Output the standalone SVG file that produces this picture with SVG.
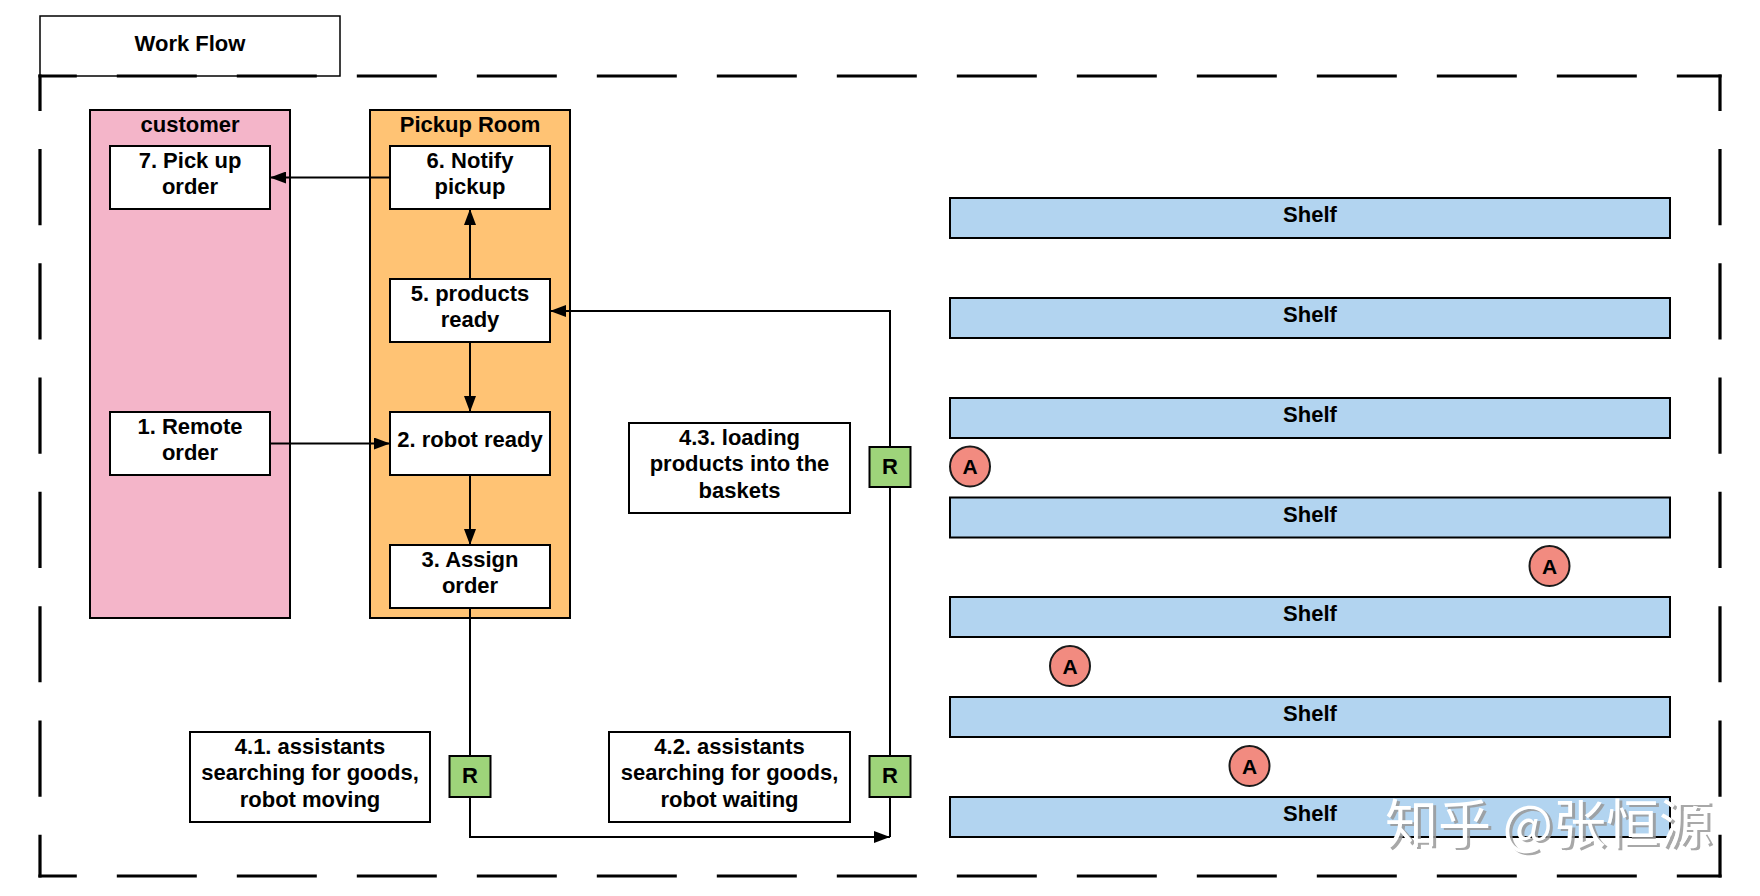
<svg xmlns="http://www.w3.org/2000/svg" width="1760" height="896" viewBox="0 0 1760 896">
<style>
.t{font-family:"Liberation Sans",Arial,sans-serif;font-weight:bold;font-size:22px;fill:#000;text-anchor:middle}
.box{fill:#fff;stroke:#000;stroke-width:2}
.lane{stroke:#000;stroke-width:2}
.shelf{fill:#b2d4f0;stroke:#000;stroke-width:2}
.r{fill:#9ed47a;stroke:#000;stroke-width:2}
.a{fill:#f28b80;stroke:#1a1a1a;stroke-width:2}
.c{fill:none;stroke:#000;stroke-width:2}
.bd{stroke:#000;stroke-width:3.2;fill:none}
.wm{font-family:"Noto Sans CJK SC",sans-serif;font-size:53px}
</style>
<defs>
<marker id="ah" markerUnits="userSpaceOnUse" markerWidth="16" markerHeight="12" refX="16" refY="6" orient="auto"><path d="M0,0 L16,6 L0,12 z" fill="#000"/></marker>
</defs>
<rect width="1760" height="896" fill="#fff"/>
<g id="title"><rect x="40" y="16" width="300" height="60" fill="#fff" stroke="#000" stroke-width="1.5"/><text class="t" x="190" y="51">Work Flow</text></g>
<g id="border">
<line class="bd" x1="38.4" y1="76" x2="1721.6" y2="76" stroke-dasharray="80 40" stroke-dashoffset="41.6"/>
<line class="bd" x1="38.4" y1="876" x2="1721.6" y2="876" stroke-dasharray="80 40" stroke-dashoffset="41.6"/>
<line class="bd" x1="40" y1="74.4" x2="40" y2="877.6" stroke-dasharray="76.19 38.1" stroke-dashoffset="39.7"/>
<line class="bd" x1="1720" y1="74.4" x2="1720" y2="877.6" stroke-dasharray="76.19 38.1" stroke-dashoffset="39.7"/>
</g>
<g id="lane-customer"><rect class="lane" x="90" y="110" width="200" height="508" fill="#f4b5c9"/><text class="t" x="190" y="132">customer</text></g>
<g id="lane-pickup"><rect class="lane" x="370" y="110" width="200" height="508" fill="#ffc374"/><text class="t" x="470" y="132">Pickup Room</text></g>
<g id="connectors">
<path class="c" d="M390,177.5 H270" marker-end="url(#ah)"/>
<path class="c" d="M470,279 V209" marker-end="url(#ah)"/>
<path class="c" d="M470,342 V412" marker-end="url(#ah)"/>
<path class="c" d="M470,475 V545" marker-end="url(#ah)"/>
<path class="c" d="M270,443.5 H390" marker-end="url(#ah)"/>
<path class="c" d="M470,608 V837 H890" marker-end="url(#ah)"/>
<path class="c" d="M890,837 V311 H550" marker-end="url(#ah)"/>
</g>
<g id="n7"><rect class="box" x="110" y="146" width="160" height="63"/><text class="t" x="190" y="167.5">7. Pick up</text><text class="t" x="190" y="194">order</text></g>
<g id="n1"><rect class="box" x="110" y="412" width="160" height="63"/><text class="t" x="190" y="433.5">1. Remote</text><text class="t" x="190" y="460">order</text></g>
<g id="n6"><rect class="box" x="390" y="146" width="160" height="63"/><text class="t" x="470" y="167.5">6. Notify</text><text class="t" x="470" y="194">pickup</text></g>
<g id="n5"><rect class="box" x="390" y="279" width="160" height="63"/><text class="t" x="470" y="300.5">5. products</text><text class="t" x="470" y="327">ready</text></g>
<g id="n2"><rect class="box" x="390" y="412" width="160" height="63"/><text class="t" x="470" y="447">2. robot ready</text></g>
<g id="n3"><rect class="box" x="390" y="545" width="160" height="63"/><text class="t" x="470" y="566.5">3. Assign</text><text class="t" x="470" y="593">order</text></g>
<g id="n43"><rect class="box" x="629" y="423" width="221" height="90"/><text class="t" x="739.5" y="444.5">4.3. loading</text><text class="t" x="739.5" y="471">products into the</text><text class="t" x="739.5" y="497.5">baskets</text></g>
<g id="n41"><rect class="box" x="190" y="732" width="240" height="90"/><text class="t" x="310" y="753.5">4.1. assistants</text><text class="t" x="310" y="780">searching for goods,</text><text class="t" x="310" y="806.5">robot moving</text></g>
<g id="n42"><rect class="box" x="609" y="732" width="241" height="90"/><text class="t" x="729.5" y="753.5">4.2. assistants</text><text class="t" x="729.5" y="780">searching for goods,</text><text class="t" x="729.5" y="806.5">robot waiting</text></g>
<g id="r1"><rect class="r" x="449.5" y="756" width="41" height="41"/><text class="t" x="470" y="783">R</text></g>
<g id="r2"><rect class="r" x="869.5" y="756" width="41" height="41"/><text class="t" x="890" y="783">R</text></g>
<g id="r3"><rect class="r" x="869.5" y="447" width="41" height="40"/><text class="t" x="890" y="474">R</text></g>
<g id="shelves">
<g id="s1"><rect class="shelf" x="950" y="198" width="720" height="40"/><text class="t" x="1310" y="222">Shelf</text></g>
<g id="s2"><rect class="shelf" x="950" y="298" width="720" height="40"/><text class="t" x="1310" y="322">Shelf</text></g>
<g id="s3"><rect class="shelf" x="950" y="398" width="720" height="40"/><text class="t" x="1310" y="422">Shelf</text></g>
<g id="s4"><rect class="shelf" x="950" y="497.5" width="720" height="40"/><text class="t" x="1310" y="521.5">Shelf</text></g>
<g id="s5"><rect class="shelf" x="950" y="597" width="720" height="40"/><text class="t" x="1310" y="621">Shelf</text></g>
<g id="s6"><rect class="shelf" x="950" y="697" width="720" height="40"/><text class="t" x="1310" y="721">Shelf</text></g>
<g id="s7"><rect class="shelf" x="950" y="797" width="720" height="40"/><text class="t" x="1310" y="821">Shelf</text></g>
</g>
<g id="a1"><circle class="a" cx="970" cy="466.5" r="20"/><text class="t" x="970" y="474" style="font-size:21px">A</text></g>
<g id="a2"><circle class="a" cx="1549.5" cy="566" r="20"/><text class="t" x="1549.5" y="573.5" style="font-size:21px">A</text></g>
<g id="a3"><circle class="a" cx="1070" cy="666" r="20"/><text class="t" x="1070" y="673.5" style="font-size:21px">A</text></g>
<g id="a4"><circle class="a" cx="1249.5" cy="766" r="20"/><text class="t" x="1249.5" y="773.5" style="font-size:21px">A</text></g>
<g id="watermark">
<text class="wm" x="1388" y="846" fill="#999" opacity="0.85">知乎 @张恒源</text>
<text class="wm" x="1385" y="844" fill="#fff">知乎 @张恒源</text>
</g>
</svg>
